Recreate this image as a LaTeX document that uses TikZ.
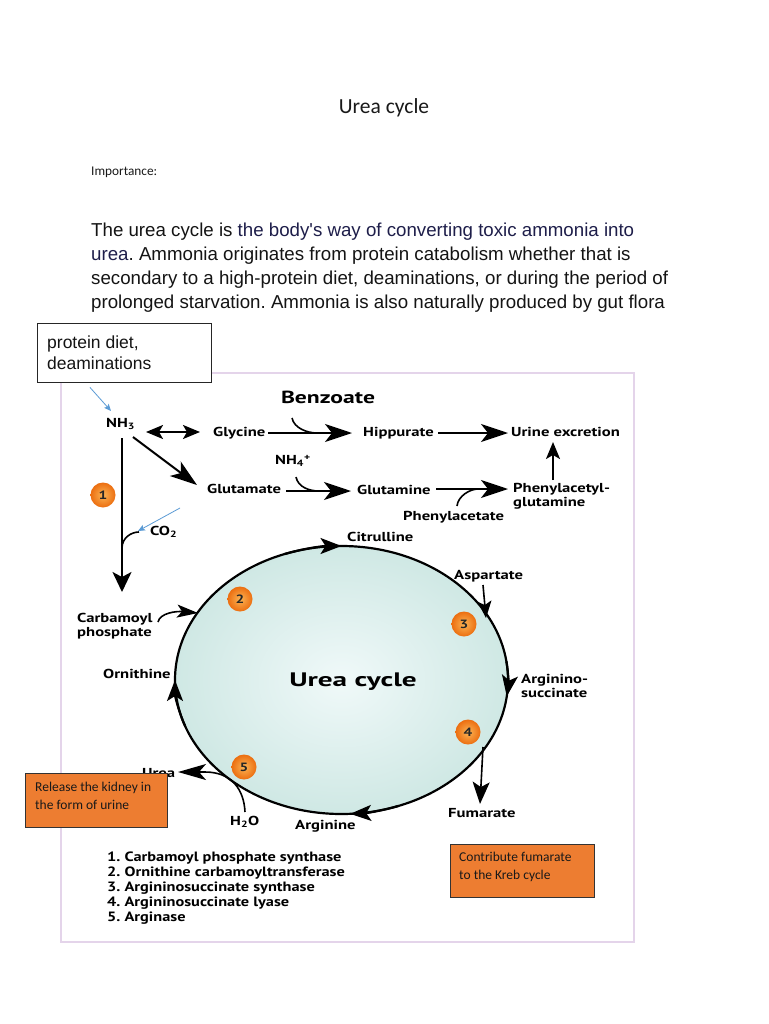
\documentclass[tikz,border=0pt]{standalone}
\usepackage{fontspec}
\setmainfont{Liberation Sans}
\newfontfamily\calfont{Carlito}
\newfontfamily\labfont{PT Sans}[FakeStretch=1.28]
\newfontfamily\benzfont{PT Sans}[FakeStretch=1.35]
\newfontfamily\ucfont{PT Sans}[FakeStretch=1.5]
\newfontfamily\enzfont{PT Sans}[FakeStretch=1.21]
\usetikzlibrary{arrows.meta,shapes.geometric,calc}
\definecolor{navytxt}{HTML}{1E1E4A}
\definecolor{bodytxt}{HTML}{141414}
\definecolor{framecol}{HTML}{E4D4EA}
\definecolor{orbox}{HTML}{ED7D31}
\definecolor{blu}{HTML}{5B9BD5}
\definecolor{cyc}{HTML}{CFE8E4}
\definecolor{cycin}{HTML}{F0F9F9}
\definecolor{circout}{HTML}{EC6E10}
\definecolor{circin}{HTML}{FBB455}
\tikzset{
  BigHd/.tip={Stealth[length=27pt,width=18pt,inset=7pt]},
  MidHd/.tip={Stealth[length=21pt,width=16pt,inset=5pt]},
  SmHd/.tip={Stealth[length=17pt,width=14pt,inset=4pt]},
  BlHd/.tip={Stealth[length=7pt,width=6pt,inset=1.5pt]},
  lblbase/.style={font=\labfont\bfseries\fontsize{13}{14.5}\selectfont, inner sep=0pt, anchor=west, align=left},
  lbl/.style={lblbase, text height=9.5pt, text depth=2.5pt},
  bodyline/.style={font=\fontsize{18.7}{22}\selectfont, text=bodytxt, inner sep=0pt, anchor=west, text height=13.5pt, text depth=4pt},
  num/.style={circle, minimum size=25pt, inner sep=0pt, inner color=circin, outer color=circout, font=\labfont\bfseries\fontsize{12}{12}\selectfont, text=black!85},
  flow/.style={line width=2pt, black},
  feed/.style={line width=1.6pt, black},
  cycarr/.style={line width=2.2pt, black},
  bluarr/.style={draw=blu, line width=0.8pt, -BlHd},
  notebox/.style={draw=black!80, line width=0.9pt, fill=orbox, inner sep=0pt},
  notetext/.style={font=\calfont\fontsize{13.5}{18}\selectfont, text=black!90, inner sep=0pt, anchor=north west, align=left}
}
\begin{document}
\frenchspacing
\begin{tikzpicture}[x=1pt,y=-1pt]
\useasboundingbox (0,0) rectangle (768,1024);
\fill[white] (0,0) rectangle (768,1024);

% Header texts
\node[font=\calfont\fontsize{21.5}{24}\selectfont, text=black!90, inner sep=0pt] (title) at (384,108) {Urea cycle};
\node[font=\calfont\fontsize{13.3}{15}\selectfont, text=black!90, inner sep=0pt, anchor=west] (imp) at (91,172) {Importance:};
\node[bodyline] (b1) at (91,232) {The urea cycle is \textcolor{navytxt}{the body\textquotesingle s way of converting toxic ammonia into}};
\node[bodyline] (b2) at (91,256) {\textcolor{navytxt}{urea}. Ammonia originates from protein catabolism whether that is};
\node[bodyline] (b3) at (91,280) {secondary to a high-protein diet, deaminations, or during the period of};
\node[bodyline] (b4) at (91,304) {prolonged starvation. Ammonia is also naturally produced by gut flora};

% Diagram frame
\draw[framecol, line width=1.5pt, fill=white] (61,373) rectangle (634,942);

% Protein diet box
\node[draw=black!85, line width=0.9pt, fill=white, minimum width=174pt, minimum height=59pt, inner sep=0pt] (pbox) at (124,352.5) {};
\node[font=\fontsize{17.5}{21}\selectfont, text=bodytxt, inner sep=0pt, anchor=north west, align=left] (ptxt) at (47,336) {protein diet,\\deaminations};

% Ellipse (urea cycle)
\coordinate (cc) at (341.5,680);
\path[inner color=cycin, outer color=cyc] (cc) ellipse[x radius=166.5, y radius=134];
\draw[cycarr] (cc) ellipse[x radius=166.5, y radius=134];
\node[font=\ucfont\bfseries\fontsize{19.5}{22}\selectfont, inner sep=0pt] (uc) at (353,682) {Urea cycle};

% cycle arrowheads
\draw[cycarr, -MidHd] ($(cc)+({166.5*cos(250)},{134*sin(250)})$) arc[start angle=250, end angle=270, x radius=166.5, y radius=134];
\draw[cycarr, -MidHd] ($(cc)+({166.5*cos(-8)},{134*sin(-8)})$) arc[start angle=-8, end angle=7, x radius=166.5, y radius=134];
\draw[cycarr, -MidHd] ($(cc)+({166.5*cos(70)},{134*sin(70)})$) arc[start angle=70, end angle=87, x radius=166.5, y radius=134];
\draw[cycarr, -MidHd] ($(cc)+({166.5*cos(160)},{134*sin(160)})$) arc[start angle=160, end angle=180, x radius=166.5, y radius=134];

% Labels
\node[lbl] (nh3) at (106,424) {NH\textsubscript{3}};
\node[lbl] (gly) at (213,433) {Glycine};
\node[lbl] (hip) at (363,433) {Hippurate};
\node[lbl] (uri) at (511,433) {Urine excretion};
\node[font=\benzfont\bfseries\fontsize{17.5}{19}\selectfont, inner sep=0pt] (benz) at (328,397) {Benzoate};
\node[lbl] (nh4) at (275,461) {NH\textsubscript{4}\textsuperscript{+}};
\node[lbl] (glu) at (207,490) {Glutamate};
\node[lbl] (gln) at (357,491) {Glutamine};
\node[lblbase] (pag) at (513,496.5) {Phenylacetyl-\\glutamine};
\node[lbl] (pa) at (403,517) {Phenylacetate};
\node[lbl] (co2) at (150,532) {CO\textsubscript{2}};
\node[lbl] (cit) at (347,538) {Citrulline};
\node[lbl] (asp) at (454,576) {Aspartate};
\node[lblbase] (cp) at (77,626) {Carbamoyl\\phosphate};
\node[lbl] (orn) at (103,675) {Ornithine};
\node[lblbase] (as) at (521,686) {Arginino-\\succinate};
\node[lbl] (urea) at (142,774) {Urea};
\node[lbl] (fum) at (448,814) {Fumarate};
\node[lbl] (h2o) at (230,822) {H\textsubscript{2}O};
\node[lbl] (arg) at (295,826) {Arginine};

% enzyme list
\node[font=\enzfont\bfseries\fontsize{13.5}{15}\selectfont, inner sep=0pt, anchor=north west, align=left] (enz) at (107,852) {1. Carbamoyl phosphate synthase\\2. Ornithine carbamoyltransferase\\3. Argininosuccinate synthase\\4. Argininosuccinate lyase\\5. Arginase};

% numbered circles
\node[num] (n1) at (103,495) {1};
\node[num] (n2) at (240,599) {2};
\node[num] (n3) at (464,624) {3};
\node[num] (n4) at (468,732) {4};
\node[num] (n5) at (244,767) {5};

% Top pathway arrows
\draw[flow, SmHd-SmHd] ($(nh3.west)+(40,8)$) -- ($(gly.west)+(-13,-1)$);
\draw[flow, -BigHd] ($(gly.west)+(55,0)$) -- ($(hip.west)+(-11,0)$);
\draw[feed] ($(hip.west)+(-71,-15)$) .. controls +(2,10) and +(-10,0) .. ($(hip.west)+(-46,0)$);
\draw[flow, -BigHd] ($(hip.west)+(75,0)$) -- ($(uri.west)+(-3,0)$);
\draw[flow, -BigHd] ($(nh3.west)+(27,13)$) -- ($(glu.west)+(-10,-5)$);
\draw[flow, -BigHd] ($(glu.west)+(79,1)$) -- ($(gln.west)+(-6,0)$);
\draw[feed] ($(gln.west)+(-61,-14)$) .. controls +(2,10) and +(-10,0) .. ($(gln.west)+(-38,0)$);
\draw[flow, -BigHd] ($(gln.west)+(79,-2)$) -- ($(pag.west)+(-5,-7.5)$);
\draw[feed] ($(pa.west)+(54,-11)$) .. controls +(1,-10) and +(-8,0) .. ($(pag.west)+(-35,-7.5)$);
\draw[flow, -SmHd] ($(pag.west)+(40,-16.5)$) -- ($(uri.west)+(42,9)$);

% Vertical NH3 -> carbamoyl phosphate
\draw[flow, -{Stealth[length=20pt,width=19pt,inset=5pt]}] ($(nh3.west)+(16,14)$) -- ($(cp.west)+(45,-34)$);
\draw[feed] ($(co2.west)+(-28,16)$) .. controls +(0,-10) and +(-8,0) .. ($(co2.west)+(-11,0)$);

% Carbamoyl phosphate into cycle
\coordinate (cpin) at (198,613);
\draw[feed, -{Stealth[length=21pt,width=13pt,inset=5pt]}] ($(cp.west)+(81,-4)$) .. controls +(2,-9) and +(-22,-2) .. (cpin);

% Aspartate
\coordinate (aspin) at (486,618);
\draw[feed, -{Stealth[length=17pt,width=14pt,inset=4pt]}] ($(asp.west)+(29,9)$) -- (aspin);

% Fumarate
\coordinate (fumout) at (483,747);
\draw[feed, -{Stealth[length=22pt,width=17pt,inset=5pt]}] (fumout) -- ($(fum.west)+(32,-10)$);

% Urea out
\draw[feed, -{Stealth[length=28pt,width=16pt,inset=7pt]}] ($(h2o.west)+(15,-10)$) .. controls (244,790) and (232,772) .. (205,772) -- ($(urea.west)+(36,-2)$);

% Blue arrows
\draw[bluarr] ($(pbox.south)+(-34,5)$) -- ($(nh3.west)+(5,-13)$);
\draw[bluarr] ($(co2.west)+(30,-24)$) -- ($(co2.west)+(-12,-1)$);

% Orange note boxes
\node[notebox, minimum width=142pt, minimum height=54pt] (rel) at (96,800) {};
\node[notetext] (reltxt) at (35,782) {Release the kidney in\\the form of urine};
\node[notebox, minimum width=144pt, minimum height=53pt] (kreb) at (522,870.5) {};
\node[notetext] (krebtxt) at (459,851.5) {Contribute fumarate\\to the Kreb cycle};
\end{tikzpicture}
\end{document}
